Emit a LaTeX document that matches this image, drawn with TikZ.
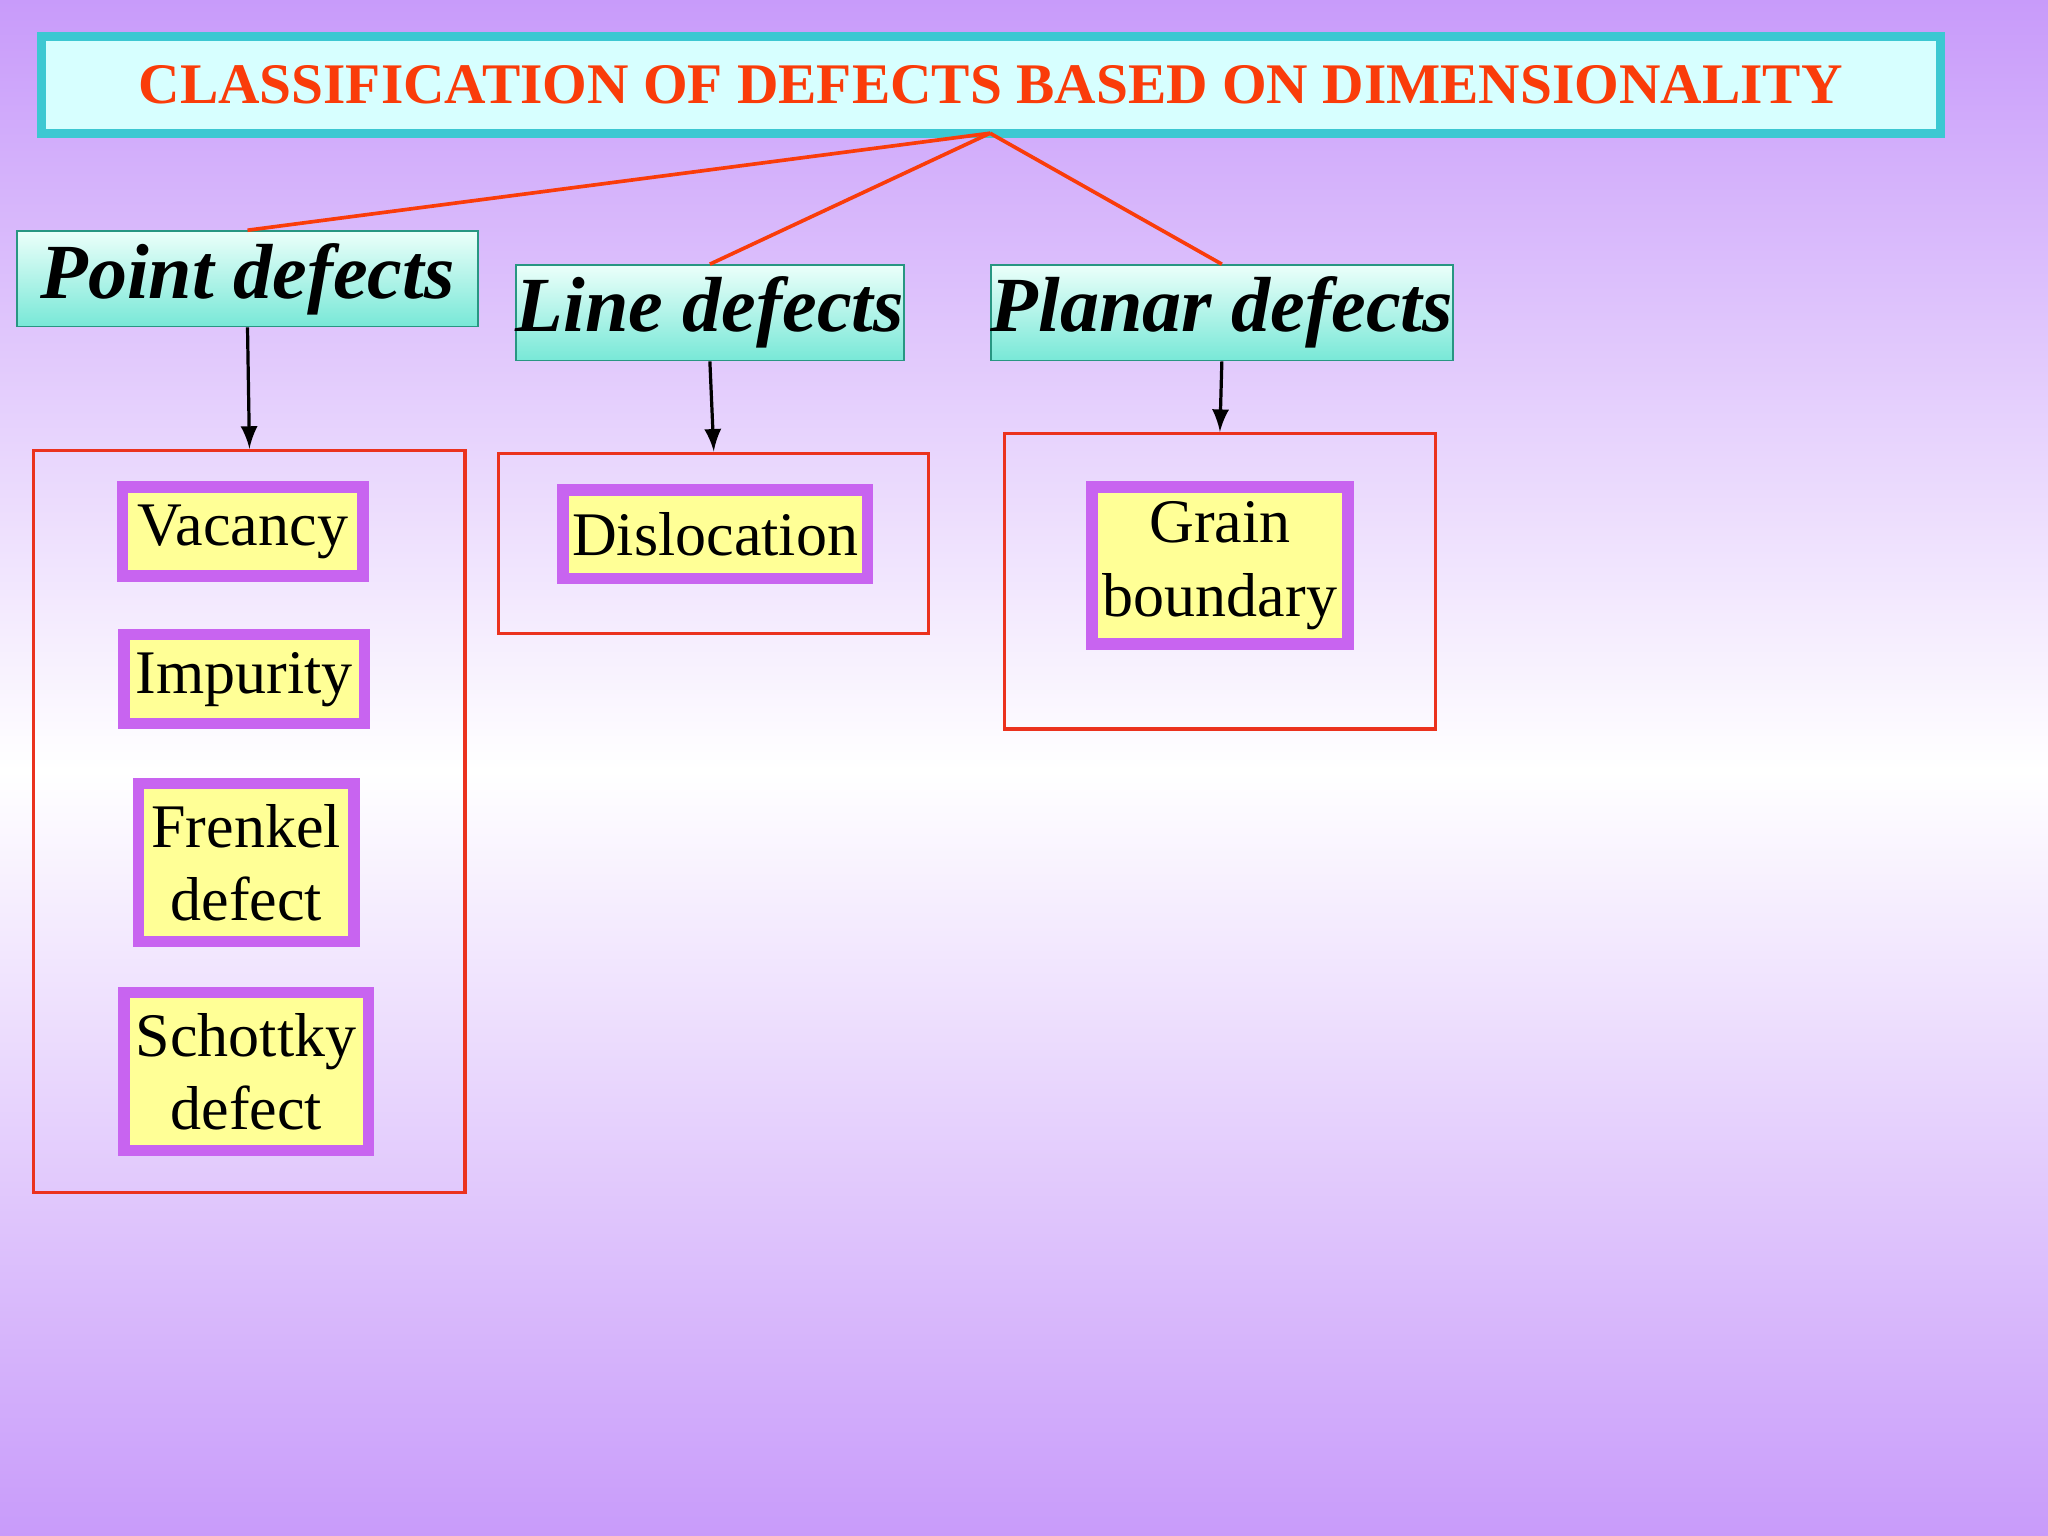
\documentclass[tikz,border=0pt]{standalone}
\usepackage{fontspec}
\setmainfont{Liberation Serif}
\definecolor{bgp}{RGB}{200,155,250}
\definecolor{ttl}{RGB}{250,60,10}
\definecolor{ttlfill}{RGB}{215,255,255}
\definecolor{ttlline}{RGB}{60,200,210}
\definecolor{hdtop}{RGB}{235,255,250}
\definecolor{hdbot}{RGB}{120,232,215}
\definecolor{hdline}{RGB}{40,150,130}
\definecolor{ibord}{RGB}{200,100,240}
\definecolor{ifill}{RGB}{255,255,150}
\definecolor{gline}{RGB}{235,50,30}
\begin{document}
\begin{tikzpicture}[x=0.01cm,y=-0.01cm,
 box/.style={draw, inner sep=0pt, align=center},
 head/.style={box, draw=hdline, top color=hdtop, bottom color=hdbot, font=\fontsize{17}{20}\selectfont\bfseries\itshape},
 item/.style={box, draw=ibord, line width=2.5pt, fill=ifill, font=\fontsize{13.5}{16}\selectfont},
 grp/.style={box, draw=gline, line width=0.7pt},
 link/.style={draw=ttl, line width=0.8pt},
 arr/.style={-latex, line width=0.7pt}]
\useasboundingbox (0,0) rectangle (1568,1176);
\shade[top color=bgp, bottom color=white] (0,0) rectangle (1568,590);
\shade[top color=white, bottom color=bgp] (0,590) rectangle (1568,1176);
\node[box, draw=ttlline, line width=2pt, fill=ttlfill, minimum width=14.53cm, minimum height=0.74cm, text=ttl, font=\fontsize{12.5}{15}\selectfont\bfseries] (title) at (758.5,65) {CLASSIFICATION OF DEFECTS BASED ON DIMENSIONALITY};
\node[head, minimum width=3.53cm, minimum height=0.73cm] (pt) at (189.5,213.5) {Point defects};
\node[head, minimum width=2.69cm, minimum height=0.73cm] (ln) at (543.5,239.5) {Line defects};
\node[head, minimum width=3.15cm, minimum height=0.73cm] (pl) at (935.5,239.5) {Planar defects};
\node[grp, minimum width=3.30cm, minimum height=5.68cm] (g1) at (191,629) {};
\node[grp, minimum width=3.29cm, minimum height=1.38cm] (g2) at (546.5,416) {};
\node[grp, minimum width=3.30cm, minimum height=2.26cm] (g3) at (934,445) {};
\node[item, minimum width=1.84cm, minimum height=0.68cm] (vac) at (186,407) {Vacancy};
\node[item, minimum width=1.84cm, minimum height=0.68cm] (imp) at (187,520) {Impurity};
\node[item, minimum width=1.65cm, minimum height=1.21cm] (fre) at (188.5,660.5) {Frenkel\\defect};
\node[item, minimum width=1.87cm, minimum height=1.21cm] (sch) at (188.5,820.5) {Schottky\\defect};
\node[item, minimum width=2.33cm, minimum height=0.68cm] (dis) at (547.5,409) {Dislocation};
\node[item, minimum width=1.96cm, minimum height=1.20cm] (gra) at (934,433) {Grain\\boundary};
\coordinate (t) at (758,102);
\draw[link] (t) -- (pt.north);
\draw[link] (t) -- (ln.north);
\draw[link] (t) -- (pl.north);
\draw[arr] (pt.south) -- (g1.north);
\draw[arr] (ln.south) -- (g2.north);
\draw[arr] (pl.south) -- (g3.north);
\end{tikzpicture}
\end{document}
